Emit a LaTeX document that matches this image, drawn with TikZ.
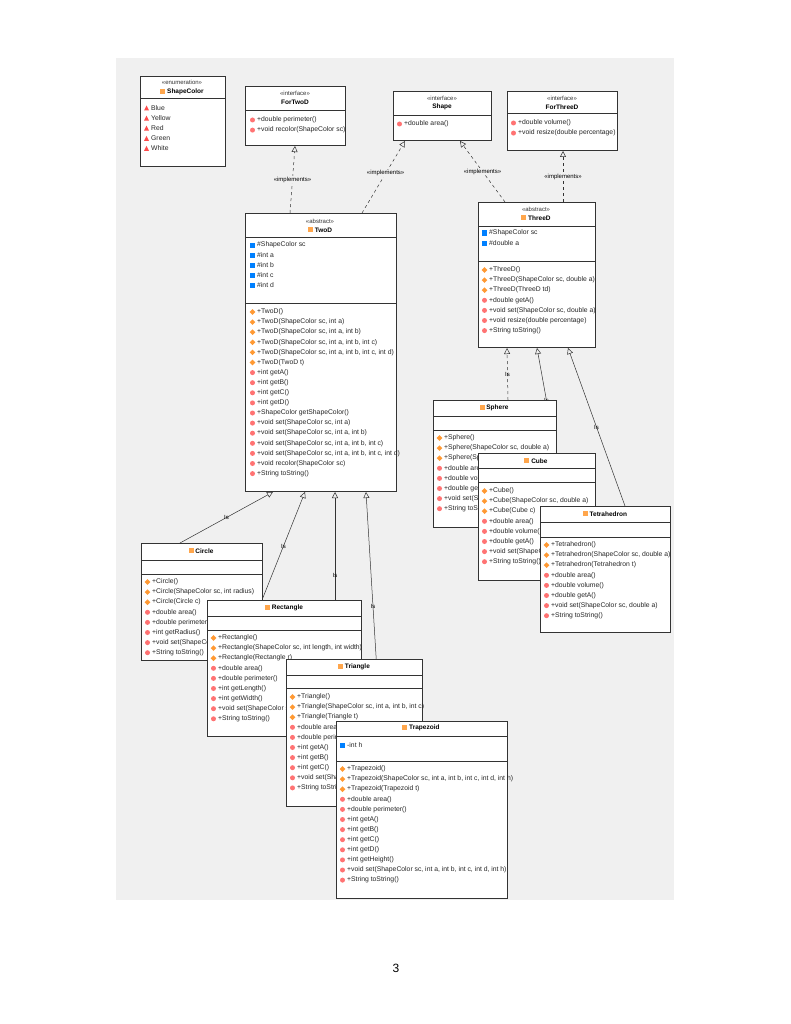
\documentclass[tikz,border=0pt]{standalone}
\usepackage{fontspec}
\setmainfont{Liberation Sans}
\usetikzlibrary{arrows.meta}
\newcommand\lguil{\textless\textless}
\newcommand\rguil{\textgreater\textgreater}
\begin{document}
\begin{tikzpicture}[x=1pt,y=-1pt,
  box/.style={draw=black!80,fill=white,line width=0.6pt},
  txt/.style={anchor=west,inner sep=0pt,font=\fontsize{6.8}{7}\selectfont,text=black!85},
  ttl/.style={inner sep=0pt,font=\bfseries\fontsize{6.5}{7}\selectfont},
  st/.style={inner sep=0pt,font=\fontsize{6}{7}\selectfont,text=black!80},
  lab/.style={inner sep=1pt,font=\fontsize{6}{7}\selectfont,fill=black!6},
  real/.style={draw=black!80,line width=0.5pt,dashed,-{Triangle[open,length=6pt,width=6pt]}},
  gen/.style={draw=black!80,line width=0.5pt,-{Triangle[open,length=6pt,width=6pt]}}]
\useasboundingbox (0,0) rectangle (791,1024);
\fill[black!6] (116,58) rectangle (674,900);
\newcommand\mkcls[6]{%
  \draw[box] (#2,#3) rectangle (#4,#5);
  \coordinate (#1) at (#2,#3);
  \foreach \s in {#6} {\draw[black!80,line width=0.6pt] (#2,\s) -- (#4,\s);}
}
\newcommand\ttlnode[4]{%
  \node[ttl] (#1) at (#2,#3) {\tikz[x=1pt,y=1pt]\fill[orange!70] (0,0) rectangle (5,5);~#4};}
\newcommand\items[5]{%
  \foreach \t [count=\i] in {#5} {
    \pgfmathsetmacro\yy{#2+10.1*(\i-1)}
    \ifnum\i>#3\relax
      \if#4f\fill[blue!50!cyan] (#1,\yy-2.5) rectangle ++(5,5);
      \else\if#4e\fill[red!70] (#1,\yy+2.5) -- ++(5,0) -- ++(-2.5,-5) -- cycle;
      \else\fill[red!55] (#1+2.5,\yy) circle (2.5);\fi\fi
    \else
      \fill[orange!80] (#1+2.5,\yy-2.8) -- ++(2.8,2.8) -- ++(-2.8,2.8) -- ++(-2.8,-2.8) -- cycle;
    \fi
    \node[txt] at (#1+7,\yy) {\t};
  }}
\mkcls{ShapeColor}{140}{76}{225}{166}{98}
\node[st] (s1) at (182,82) {\lguil enumeration\rguil};
\ttlnode{t1}{182}{92}{ShapeColor}
\items{144}{108}{0}{e}{Blue,Yellow,Red,Green,White}
\mkcls{ForTwoD}{245}{86}{345}{145}{110}
\node[st] (s2) at (295,93) {\lguil interface\rguil};
\node[ttl] (t2) at (295,102) {ForTwoD};
\items{250}{120}{0}{m}{+double perimeter(),+void recolor(ShapeColor sc)}
\mkcls{Shape}{393}{91}{491}{140}{115}
\node[st] (s3) at (442,98) {\lguil interface\rguil};
\node[ttl] (t3) at (442,107) {Shape};
\items{397}{124}{0}{m}{+double area()}
\mkcls{ForThreeD}{507}{91}{617}{150}{113}
\node[st] (s4) at (562,98) {\lguil interface\rguil};
\node[ttl] (t4) at (562,107) {ForThreeD};
\items{511}{123}{0}{m}{+double volume(),+void resize(double percentage)}
\mkcls{TwoD}{245}{213}{396}{491}{237,303}
\node[st] (s5) at (320,221) {\lguil abstract\rguil};
\ttlnode{t5}{320}{230}{TwoD}
\items{250}{245}{0}{f}{\#ShapeColor sc,\#int a,\#int b,\#int c,\#int d}
\items{250}{312}{6}{m}{+TwoD(),+TwoD(ShapeColor sc{,} int a),+TwoD(ShapeColor sc{,} int a{,} int b),+TwoD(ShapeColor sc{,} int a{,} int b{,} int c),+TwoD(ShapeColor sc{,} int a{,} int b{,} int c{,} int d),+TwoD(TwoD t),+int getA(),+int getB(),+int getC(),+int getD(),+ShapeColor getShapeColor(),+void set(ShapeColor sc{,} int a),+void set(ShapeColor sc{,} int a{,} int b),+void set(ShapeColor sc{,} int a{,} int b{,} int c),+void set(ShapeColor sc{,} int a{,} int b{,} int c{,} int d),+void recolor(ShapeColor sc),+String toString()}
\mkcls{ThreeD}{478}{202}{595}{347}{226,261}
\node[st] (s6) at (536,209) {\lguil abstract\rguil};
\ttlnode{t6}{536}{218}{ThreeD}
\items{482}{233}{0}{f}{\#ShapeColor sc,\#double a}
\items{482}{270}{3}{m}{+ThreeD(),+ThreeD(ShapeColor sc{,} double a),+ThreeD(ThreeD td),+double getA(),+void set(ShapeColor sc{,} double a),+void resize(double percentage),+String toString()}
\coordinate (a1) at (290,213); \coordinate (a2) at (362,213);
\coordinate (a3) at (505,202); \coordinate (a4) at (563,202);
\coordinate (i1) at (295,146); \coordinate (i2) at (405,141);
\coordinate (i3) at (460,141); \coordinate (i4) at (563,151);
\draw[real] (a1) -- node[lab,pos=0.5] {\lguil implements\rguil} (i1);
\draw[real] (a2) -- node[lab,pos=0.55] {\lguil implements\rguil} (i2);
\draw[real] (a3) -- node[lab,pos=0.5] {\lguil implements\rguil} (i3);
\draw[real] (a4) -- node[lab,pos=0.5] {\lguil implements\rguil} (i4);
\coordinate (b1) at (508,400); \coordinate (b2) at (556,453); \coordinate (b3) at (625,506);
\coordinate (j1) at (507,348); \coordinate (j2) at (537,348); \coordinate (j3) at (568,348);
\draw[gen,dashed] (b1) -- node[lab,fill=none,pos=0.5] {Is} (j1);
\draw[gen] (b2) -- node[lab,fill=none,pos=0.5] {Is} (j2);
\draw[gen] (b3) -- node[lab,fill=none,pos=0.5] {Is} (j3);
\mkcls{Sphere}{433}{400}{556}{527}{416,430}
\ttlnode{t7}{494}{408}{Sphere}
\items{437}{438}{3}{m}{+Sphere(),+Sphere(ShapeColor sc{,} double a),+Sphere(Sphere s),+double area(),+double volume(),+double getA(),+void set(ShapeColor sc{,} double a),+String toString()}
\mkcls{Cube}{478}{453}{595}{580}{468,482}
\ttlnode{t8}{536}{461}{Cube}
\items{482}{491}{3}{m}{+Cube(),+Cube(ShapeColor sc{,} double a),+Cube(Cube c),+double area(),+double volume(),+double getA(),+void set(ShapeColor sc{,} double a),+String toString()}
\mkcls{Tetrahedron}{540}{506}{670}{632}{522,537}
\ttlnode{t9}{605}{514}{Tetrahedron}
\items{544}{545}{3}{m}{+Tetrahedron(),+Tetrahedron(ShapeColor sc{,} double a),+Tetrahedron(Tetrahedron t),+double area(),+double volume(),+double getA(),+void set(ShapeColor sc{,} double a),+String toString()}
\coordinate (c1) at (180,543); \coordinate (c2) at (262,600);
\coordinate (c3) at (335,659); \coordinate (c4) at (380,721);
\coordinate (k1) at (273,492); \coordinate (k2) at (305,492);
\coordinate (k3) at (335,492); \coordinate (k4) at (366,492);
\draw[gen] (c1) -- node[lab,fill=none,pos=0.5] {Is} (k1);
\draw[gen] (c2) -- node[lab,fill=none,pos=0.5] {Is} (k2);
\draw[gen] (c3) -- node[lab,fill=none,pos=0.5] {Is} (k3);
\draw[gen] (c4) -- node[lab,fill=none,pos=0.5] {Is} (k4);
\mkcls{Circle}{141}{543}{262}{660}{560,574}
\ttlnode{t10}{201}{551}{Circle}
\items{145}{582}{3}{m}{+Circle(),+Circle(ShapeColor sc{,} int radius),+Circle(Circle c),+double area(),+double perimeter(),+int getRadius(),+void set(ShapeColor sc{,} int radius),+String toString()}
\mkcls{Rectangle}{207}{600}{361}{736}{616,630}
\ttlnode{t11}{284}{608}{Rectangle}
\items{211}{638}{3}{m}{+Rectangle(),+Rectangle(ShapeColor sc{,} int length{,} int width),+Rectangle(Rectangle r),+double area(),+double perimeter(),+int getLength(),+int getWidth(),+void set(ShapeColor sc{,} int length{,} int width),+String toString()}
\mkcls{Triangle}{286}{659}{422}{806}{675,688}
\ttlnode{t12}{354}{667}{Triangle}
\items{290}{697}{3}{m}{+Triangle(),+Triangle(ShapeColor sc{,} int a{,} int b{,} int c),+Triangle(Triangle t),+double area(),+double perimeter(),+int getA(),+int getB(),+int getC(),+void set(ShapeColor sc{,} int a{,} int b{,} int c),+String toString()}
\mkcls{Trapezoid}{336}{721}{507}{898}{736,761}
\ttlnode{t13}{421}{728}{Trapezoid}
\items{340}{745}{0}{f}{-int h}
\items{340}{769}{3}{m}{+Trapezoid(),+Trapezoid(ShapeColor sc{,} int a{,} int b{,} int c{,} int d{,} int h),+Trapezoid(Trapezoid t),+double area(),+double perimeter(),+int getA(),+int getB(),+int getC(),+int getD(),+int getHeight(),+void set(ShapeColor sc{,} int a{,} int b{,} int c{,} int d{,} int h),+String toString()}
\node[font=\fontsize{12}{14}\selectfont\rmfamily] (pg) at (396,968) {3};
\end{tikzpicture}
\end{document}
